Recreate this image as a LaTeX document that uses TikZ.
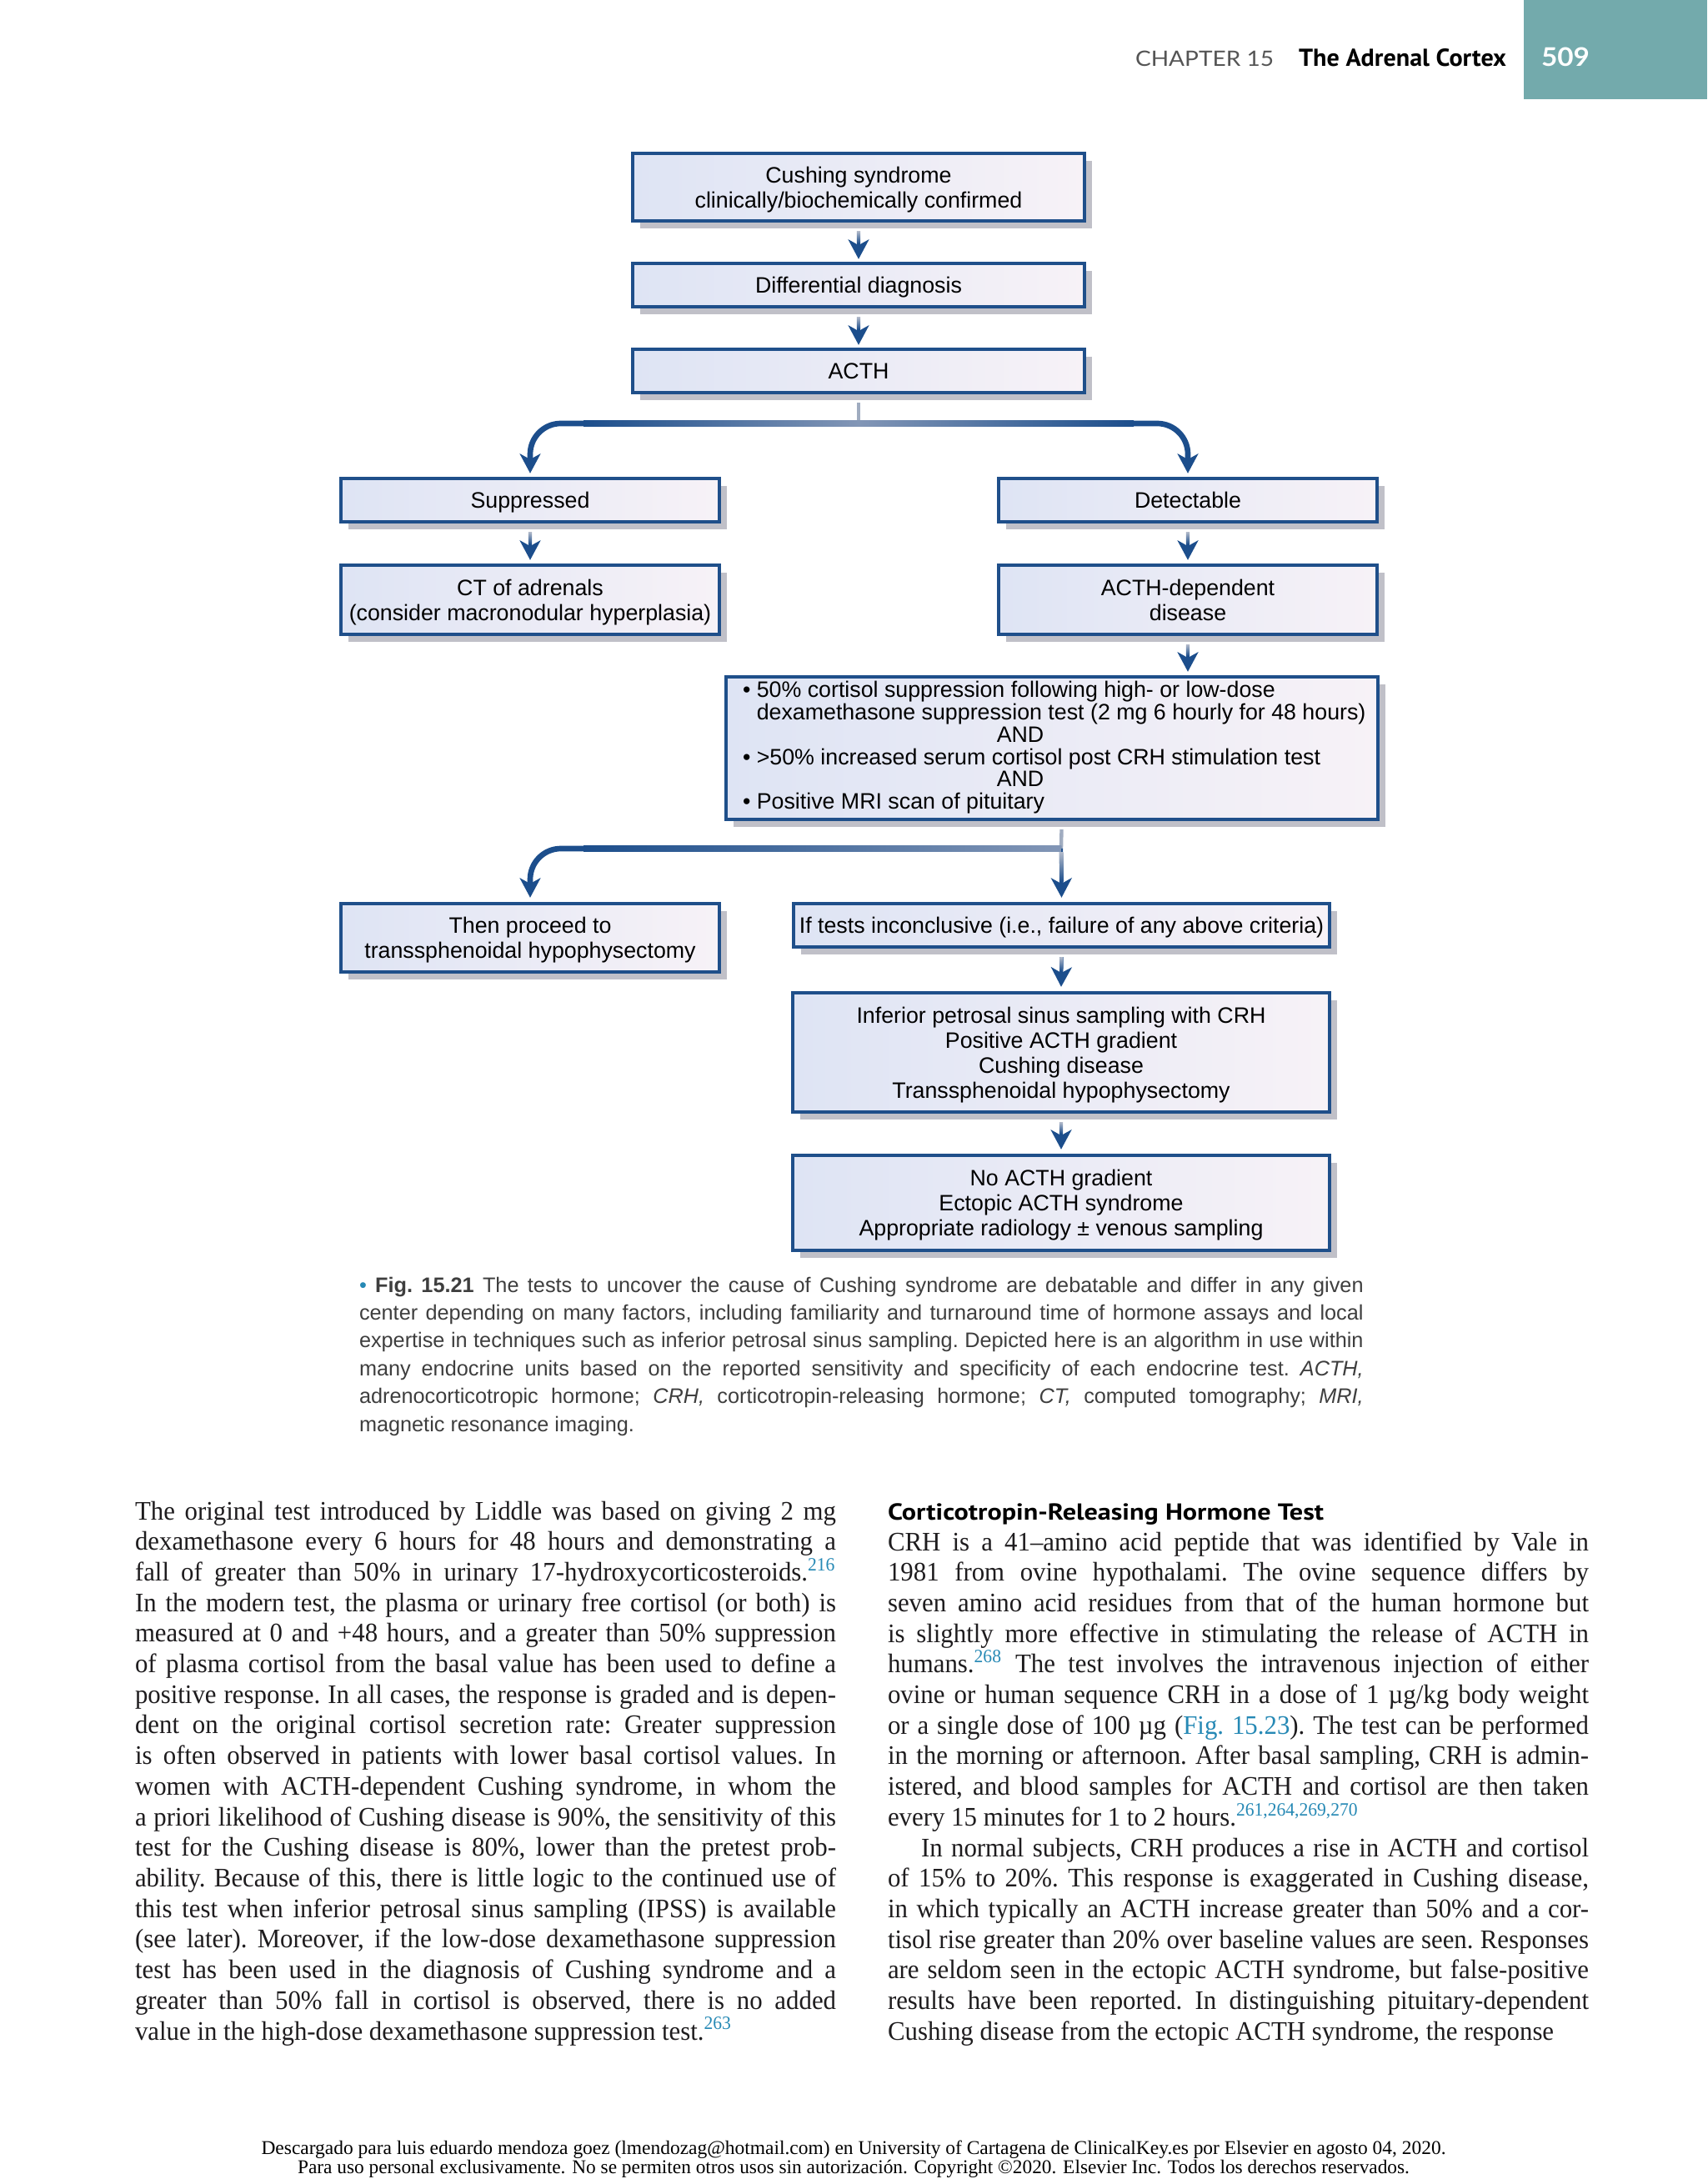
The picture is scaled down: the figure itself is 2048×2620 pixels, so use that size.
\documentclass[tikz,border=0pt]{standalone}
\usepackage{fontspec}
\usepackage{graphicx}
\setmainfont{Liberation Serif}
\newfontfamily\flowfont{Liberation Sans}
\newfontfamily\latofont{Lato}
\newfontfamily\ptsans{PT Sans}
\usetikzlibrary{arrows.meta,shadows,calc}
\newlength\pu \setlength\pu{0.298828pt}
\definecolor{bblue}{RGB}{31,79,138}
\definecolor{ablue}{RGB}{28,78,140}
\definecolor{fillL}{RGB}{222,228,244}
\definecolor{fillR}{RGB}{247,242,247}
\definecolor{shadowgray}{RGB}{192,192,200}
\definecolor{stemgray}{RGB}{160,172,192}
\definecolor{shafttop}{RGB}{178,186,202}
\definecolor{barmid}{RGB}{130,150,182}
\definecolor{hdrteal}{RGB}{115,170,172}
\definecolor{linkc}{RGB}{38,137,181}
\definecolor{captxt}{RGB}{62,62,62}
\definecolor{bodytxt}{RGB}{30,28,30}
\definecolor{chapgray}{RGB}{85,85,85}
\newcommand\mysup[1]{\textsuperscript{\color{linkc}#1}}
\begin{document}
\begin{tikzpicture}[x=0.298828pt,y=-0.298828pt,
  fbox/.style={draw=bblue, line width=1.3pt, left color=fillL, right color=fillR,
    drop shadow={shadow xshift=2.7pt, shadow yshift=-2.7pt, fill=shadowgray, opacity=1},
    font=\flowfont\fontsize{8}{9}\selectfont, align=center, inner sep=0pt, text depth=0pt},
  arr/.style={-{Stealth[length=7pt,width=7.4pt,inset=2pt]}, line width=1.3pt, draw=ablue},
  bar/.style={-{Stealth[length=7pt,width=7.4pt,inset=2pt]}, line width=2pt, draw=ablue, rounded corners=11pt},
  stem/.style={line width=1.3pt, draw=stemgray},
  txt/.style={inner sep=0pt, outer sep=0pt}]
\useasboundingbox (0,0) rectangle (2048,2620);
\fill[white] (0,0) rectangle (2048,2620);

% header
\fill[hdrteal] (1828,0) rectangle (2048,119);
\node[txt, anchor=base west, text=chapgray] (chap) at (1362,80) {\resizebox{49.6pt}{\height}{\latofont\fontsize{7.6}{9}\selectfont CHAPTER 15}};
\node[txt, anchor=base west, text=black] (ttl) at (1558,80) {\resizebox{74.4pt}{\height}{\ptsans\bfseries\fontsize{8.8}{10}\selectfont The Adrenal Cortex}};
\node[txt, anchor=base west, text=white] (pg) at (1849,80) {\resizebox{17.3pt}{\height}{\latofont\bfseries\fontsize{9.2}{10}\selectfont 509}};

% flowchart boxes
\node[fbox, minimum width=542\pu, minimum height=81\pu] (b1) at (1030,224.5) {Cushing syndrome\\clinically/biochemically confirmed};
\node[fbox, minimum width=542\pu, minimum height=52\pu] (b2) at (1030,342) {Differential diagnosis};
\node[fbox, minimum width=542\pu, minimum height=52\pu] (b3) at (1030,445) {ACTH};
\node[fbox, minimum width=454\pu, minimum height=52\pu] (sup) at (636,600) {Suppressed};
\node[fbox, minimum width=454\pu, minimum height=52\pu] (det) at (1425,600) {Detectable};
\node[fbox, minimum width=454\pu, minimum height=83\pu] (ct) at (636,719.5) {CT of adrenals\\(consider macronodular hyperplasia)};
\node[fbox, minimum width=454\pu, minimum height=83\pu] (dep) at (1425,719.5) {ACTH-dependent\\disease};
\node[fbox, minimum width=782\pu, minimum height=171\pu] (crit) at (1262,897.5) {};
\node[fbox, minimum width=454\pu, minimum height=82\pu] (thenb) at (636,1125) {Then proceed to\\transsphenoidal hypophysectomy};
\node[fbox, minimum width=643\pu, minimum height=52\pu] (ifb) at (1273.5,1110) {If tests inconclusive (i.e., failure of any above criteria)};
\node[fbox, minimum width=644\pu, minimum height=143\pu] (ipss) at (1273,1262.5) {Inferior petrosal sinus sampling with CRH\\Positive ACTH gradient\\Cushing disease\\Transsphenoidal hypophysectomy};
\node[fbox, minimum width=644\pu, minimum height=114\pu] (noacth) at (1273,1443) {No ACTH gradient\\Ectopic ACTH syndrome\\Appropriate radiology ± venous sampling};

\node[txt, anchor=base west] (crittext) at (891,837) {\parbox[t]{240pt}{\flowfont\fontsize{8}{7.98}\selectfont
\textbullet\ 50\% cortisol suppression following high- or low-dose\\
\hphantom{\textbullet\ }dexamethasone suppression test (2 mg 6 hourly for 48 hours)\\
\makebox[666\pu]{AND}\\
\textbullet\ >50\% increased serum cortisol post CRH stimulation test\\
\makebox[666\pu]{AND}\\
\textbullet\ Positive MRI scan of pituitary}};

% straight arrows
\draw[arr] ($(b1.south)+(0,10)$) -- ($(b2.north)+(0,-3)$);
\shade[top color=shafttop, bottom color=ablue] ($(b1.south)+(-2.2,10)$) rectangle ($(b2.north)+(2.2,-22)$);
\draw[arr] ($(b2.south)+(0,10)$) -- ($(b3.north)+(0,-3)$);
\shade[top color=shafttop, bottom color=ablue] ($(b2.south)+(-2.2,10)$) rectangle ($(b3.north)+(2.2,-22)$);
\draw[arr] ($(sup.south)+(0,10)$) -- ($(ct.north)+(0,-4)$);
\shade[top color=shafttop, bottom color=ablue] ($(sup.south)+(-2.2,10)$) rectangle ($(ct.north)+(2.2,-23)$);
\draw[arr] ($(det.south)+(0,10)$) -- ($(dep.north)+(0,-4)$);
\shade[top color=shafttop, bottom color=ablue] ($(det.south)+(-2.2,10)$) rectangle ($(dep.north)+(2.2,-23)$);
\draw[arr] ($(dep.south)+(0,10)$) -- ($(dep.south |- crit.north)+(0,-4)$);
\shade[top color=shafttop, bottom color=ablue] ($(dep.south)+(-2.2,10)$) rectangle ($(dep.south |- crit.north)+(2.2,-23)$);
\draw[arr] ($(ifb.south)+(0,10)$) -- ($(ipss.north)+(0,-5)$);
\shade[top color=shafttop, bottom color=ablue] ($(ifb.south)+(-2.2,10)$) rectangle ($(ipss.north)+(2.2,-24)$);
\draw[arr] ($(ipss.south)+(0,10)$) -- ($(noacth.north)+(0,-5)$);
\shade[top color=shafttop, bottom color=ablue] ($(ipss.south)+(-2.2,10)$) rectangle ($(noacth.north)+(2.2,-24)$);

% branch 1
\coordinate (j1) at (1030,508);
\draw[stem] ($(b3.south)+(0,10)$) -- (j1);
\draw[bar] (j1) -| ($(sup.north)+(0,-4)$);
\draw[bar] (j1) -| ($(det.north)+(0,-4)$);
\shade[left color=ablue, right color=barmid] (700,504.65) rectangle (1030,511.35);
\shade[left color=barmid, right color=ablue] (1030,504.65) rectangle (1360,511.35);

% branch 2
\coordinate (j2) at (1273,1018);
\draw[stem] ($(ifb.north |- crit.south)+(0,10)$) -- (j2);
\draw[bar] (j2) -| ($(thenb.north)+(0,-5)$);
\draw[arr] (j2) -- ($(ifb.north)+(0,-5)$);
\shade[top color=shafttop, bottom color=ablue] ($(j2)+(-2.2,4)$) rectangle ($(ifb.north)+(2.2,-24)$);
\shade[left color=ablue, right color=barmid] (700,1014.65) rectangle (1273,1021.35);

% caption
\node[txt, anchor=base west, text=captxt] (cap) at (431,1550) {\parbox[t]{360pt}{\flowfont\fontsize{7.55}{10}\selectfont\parindent=0pt\hyphenpenalty=10000\frenchspacing
\textcolor{linkc}{\textbullet}\ \textbf{Fig. 15.21}\ The tests to uncover the cause of Cushing syndrome are debatable and differ in any given\linebreak
center depending on many factors, including familiarity and turnaround time of hormone assays and local\linebreak
expertise in techniques such as inferior petrosal sinus sampling. Depicted here is an algorithm in use within\linebreak
many endocrine units based on the reported sensitivity and specificity of each endocrine test. \textit{ACTH,}\linebreak
adrenocorticotropic hormone; \textit{CRH,} corticotropin-releasing hormone; \textit{CT,} computed tomography; \textit{MRI,}\linebreak
magnetic resonance imaging.}};

% body left column
\node[txt, anchor=base west, text=bodytxt] (lcol) at (162,1823) {\scalebox{0.96}[1]{\parbox[t]{261.8pt}{\fontsize{9.6}{10.97}\selectfont\parindent=0pt\hyphenpenalty=10000\tolerance=10000\frenchspacing
The original test introduced by Liddle was based on giving 2 mg\linebreak
dexamethasone every 6 hours for 48 hours and demonstrating a\linebreak
fall of greater than 50\% in urinary 17-hydroxycorticosteroids.\mysup{216}\linebreak
In the modern test, the plasma or urinary free cortisol (or both) is\linebreak
measured at 0 and +48 hours, and a greater than 50\% suppression\linebreak
of plasma cortisol from the basal value has been used to define a\linebreak
positive response. In all cases, the response is graded and is depen-\linebreak
dent on the original cortisol secretion rate: Greater suppression\linebreak
is often observed in patients with lower basal cortisol values. In\linebreak
women with ACTH-dependent Cushing syndrome, in whom the\linebreak
a priori likelihood of Cushing disease is 90\%, the sensitivity of this\linebreak
test for the Cushing disease is 80\%, lower than the pretest prob-\linebreak
ability. Because of this, there is little logic to the continued use of\linebreak
this test when inferior petrosal sinus sampling (IPSS) is available\linebreak
(see later). Moreover, if the low-dose dexamethasone suppression\linebreak
test has been used in the diagnosis of Cushing syndrome and a\linebreak
greater than 50\% fall in cortisol is observed, there is no added\linebreak
value in the high-dose dexamethasone suppression test.\mysup{263}}}};

% body right column
\node[txt, anchor=base west] (hd) at (1065,1823) {\resizebox{156.3pt}{\height}{\ptsans\bfseries\fontsize{8.3}{10}\selectfont Corticotropin-Releasing Hormone Test}};
\node[txt, anchor=base west, text=bodytxt] (rcol) at (1065,1860) {\scalebox{0.96}[1]{\parbox[t]{261.8pt}{\fontsize{9.6}{10.97}\selectfont\parindent=0pt\hyphenpenalty=10000\tolerance=10000\frenchspacing
CRH is a 41–amino acid peptide that was identified by Vale in\linebreak
1981 from ovine hypothalami. The ovine sequence differs by\linebreak
seven amino acid residues from that of the human hormone but\linebreak
is slightly more effective in stimulating the release of ACTH in\linebreak
humans.\mysup{268} The test involves the intravenous injection of either\linebreak
ovine or human sequence CRH in a dose of 1 µg/kg body weight\linebreak
or a single dose of 100 µg (\textcolor{linkc}{Fig. 15.23}). The test can be performed\linebreak
in the morning or afternoon. After basal sampling, CRH is admin-\linebreak
istered, and blood samples for ACTH and cortisol are then taken\linebreak
every 15 minutes for 1 to 2 hours.\mysup{261,264,269,270}\par
\hspace*{12.5pt}In normal subjects, CRH produces a rise in ACTH and cortisol\linebreak
of 15\% to 20\%. This response is exaggerated in Cushing disease,\linebreak
in which typically an ACTH increase greater than 50\% and a cor-\linebreak
tisol rise greater than 20\% over baseline values are seen. Responses\linebreak
are seldom seen in the ectopic ACTH syndrome, but false-positive\linebreak
results have been reported. In distinguishing pituitary-dependent\linebreak
Cushing disease from the ectopic ACTH syndrome, the response}}};

% footer
\node[txt, anchor=base] (foot1) at (1024,2584) {\resizebox{424.6pt}{\height}{\fontsize{7}{8}\selectfont Descargado para luis eduardo mendoza goez (lmendozag@hotmail.com) en University of Cartagena de ClinicalKey.es por Elsevier en agosto 04, 2020.}};
\node[txt, anchor=base] (foot2) at (1024,2607) {\resizebox{398.6pt}{\height}{\fontsize{7}{8}\selectfont Para uso personal exclusivamente. No se permiten otros usos sin autorización. Copyright ©2020. Elsevier Inc. Todos los derechos reservados.}};
\end{tikzpicture}
\end{document}
